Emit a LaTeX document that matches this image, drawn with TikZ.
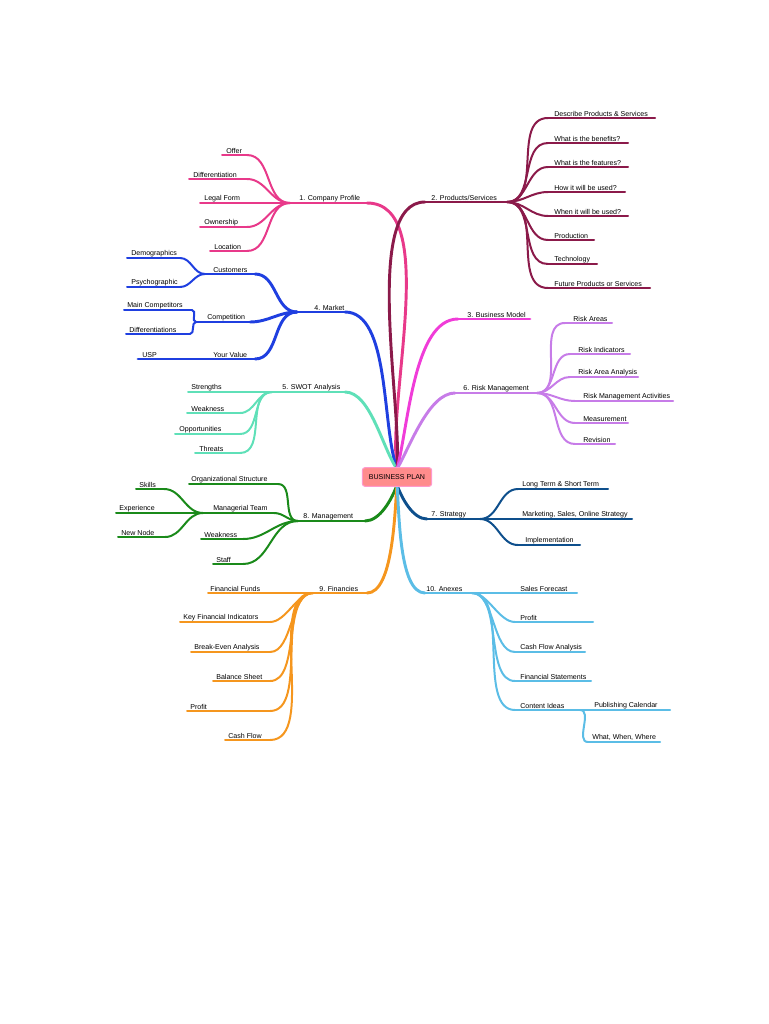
\documentclass[tikz,border=0pt]{standalone}
\usepackage{fontspec}
\setmainfont{Liberation Sans}
\begin{document}
\begin{tikzpicture}[x=0.75pt,y=-0.75pt,
  lbl/.style={anchor=south west,inner sep=0.8pt,font=\fontsize{5.3}{6}\selectfont},
  main/.style={line width=2.2pt,line cap=round},
  leaf/.style={line width=1.5pt,line cap=round},
  hubbox/.style={draw=pink!80!magenta,fill=red!45!white,rounded corners=2pt,line width=0.8pt,minimum width=52pt,minimum height=14pt,inner sep=0pt,font=\fontsize{5.3}{6}\selectfont}]
\useasboundingbox (0,0) rectangle (768,1024);
\definecolor{cP}{HTML}{E8398A}\definecolor{cM}{HTML}{1F3FE0}\definecolor{cS}{HTML}{5FE0B8}
\definecolor{cR}{HTML}{8B1A4A}\definecolor{cB}{HTML}{F03CD8}\definecolor{cV}{HTML}{C77CE8}
\definecolor{cG}{HTML}{1A8A1A}\definecolor{cO}{HTML}{F5961E}\definecolor{cD}{HTML}{0E4F8C}
\definecolor{cL}{HTML}{5BBDE6}
% #1 style #2 name #3 x1 #4 x2 #5 y #6 labelx #7 text
\newcommand\Br[7]{\coordinate (#2-l) at (#3,#5);\coordinate (#2-r) at (#4,#5);
  \node[lbl] (#2) at (#6,#5) {#7};\draw[#1] (#2-l)--(#2-r);}
\coordinate (hubT) at (397,469);\coordinate (hubB) at (397,485);
% main branches drawn first
\Br{main,cP}{cp}{290}{367}{203}{298}{1. Company Profile}
\Br{main,cM}{mk}{297}{345}{312}{313}{4. Market}
\Br{main,cS}{sw}{272}{345}{392}{281}{5. SWOT Analysis}
\Br{main,cR}{ps}{425}{507}{202}{430}{2. Products/Services}
\Br{main,cB}{bm}{458}{530}{319}{466}{3. Business Model}
\Br{main,cV}{rm}{455}{537}{393}{462}{6. Risk Management}
\Br{main,cG}{mg}{298}{365}{521}{302}{8. Management}
\Br{main,cO}{fi}{313}{367}{593}{318}{9. Financies}
\Br{main,cD}{st}{427}{480}{519}{430}{7. Strategy}
\Br{main,cL}{an}{425}{472}{593}{425}{10. Anexes}
\draw[main,cP] (cp-r) to[out=0,in=98,looseness=0.7] (hubT);
\draw[main,cM] (mk-r) to[out=0,in=110,looseness=0.7] (hubT);
\draw[main,cS] (sw-r) to[out=0,in=125,looseness=0.7] (hubT);
\draw[main,cR] (hubT) to[out=85,in=180,looseness=0.6] (ps-l);
\draw[main,cB] (hubT) to[out=75,in=180,looseness=0.7] (bm-l);
\draw[main,cV] (hubT) to[out=60,in=180,looseness=0.7] (rm-l);
\draw[main,cG] (hubB) to[out=-110,in=0,looseness=0.8] (mg-r);
\draw[main,cO] (hubB) to[out=-95,in=0,looseness=0.6] (fi-r);
\draw[main,cD] (hubB) to[out=-70,in=180,looseness=0.8] (st-l);
\draw[main,cL] (hubB) to[out=-85,in=180,looseness=0.6] (an-l);
\node[hubbox] (bp) at (397,477) {BUSINESS PLAN};
% 1 company profile
\foreach \n/\a/\y/\t in {of/222/155/Offer,di/189/179/Differentiation,lf/200/203/Legal Form,ow/200/227/Ownership,lo/210/251/Location}{
 \Br{leaf,cP}{\n}{\a}{247}{\y}{\a+3}{\t}
 \draw[leaf,cP] (cp-l) to[out=180,in=0] (\n-r);}
% 4 market
\Br{main,cM}{cu}{205}{255}{274}{212}{Customers}
\Br{main,cM}{co}{196}{250}{322}{206}{Competition}
\Br{main,cM}{yv}{200}{255}{359}{212}{Your Value}
\Br{main,cM}{us}{138}{200}{359}{141}{USP}
\draw[main,cM] (mk-l) to[out=180,in=0] (cu-r);
\draw[main,cM] (mk-l) to[out=180,in=0] (co-r);
\draw[main,cM] (mk-l) to[out=180,in=0] (yv-r);
\Br{leaf,cM}{dm}{127}{180}{258}{130}{Demographics}
\Br{leaf,cM}{py}{127}{180}{287}{130}{Psychographic}
\draw[leaf,cM] (cu-l) to[out=180,in=0] (dm-r);\draw[leaf,cM] (cu-l) to[out=180,in=0] (py-r);
\Br{leaf,cM}{mc}{124}{192}{310}{126}{Main Competitors}
\Br{leaf,cM}{dfs}{126}{190}{334}{128}{Differentiations}
\draw[leaf,cM] (co-l) to[out=180,in=0] (mc-r);\draw[leaf,cM] (co-l) to[out=180,in=0] (dfs-r);
% 5 swot
\Br{leaf,cS}{sg}{188}{272}{392}{190}{Strengths}
\foreach \n/\a/\y/\t in {wk/187/413/Weakness,op/175/434/Opportunities,th/195/453/Threats}{
 \Br{leaf,cS}{\n}{\a}{240}{\y}{\a+3}{\t}
 \draw[leaf,cS] (sw-l) to[out=180,in=0] (\n-r);}
% 2 products
\foreach \n/\b/\y/\t in {p1/655/118/Describe Products \& Services,p2/628/143/What is the benefits?,p3/628/167/What is the features?,p4/625/192/How it will be used?,p5/628/216/When it will be used?,p6/594/240/Production,p7/597/264/Technology,p8/650/288/Future Products or Services}{
 \Br{leaf,cR}{\n}{548}{\b}{\y}{553}{\t}
 \draw[leaf,cR] (ps-r) to[out=0,in=180] (\n-l);}
% 6 risk
\foreach \n/\a/\b/\y/\t in {r1/565/612/323/Risk Areas,r2/570/630/354/Risk Indicators,r3/570/638/377/Risk Area Analysis,r4/575/673/401/Risk Management Activities,r5/575/628/423/Measurement,r6/575/615/444/Revision}{
 \Br{leaf,cV}{\n}{\a}{\b}{\y}{\a+7}{\t}
 \draw[leaf,cV] (rm-r) to[out=0,in=180] (\n-l);}
% 8 management
\Br{leaf,cG}{os}{189}{278}{484}{190}{Organizational Structure}
\Br{leaf,cG}{mt}{203}{274}{513}{212}{Managerial Team}
\Br{leaf,cG}{wm}{201}{243}{539}{203}{Weakness}
\Br{leaf,cG}{sf}{213}{243}{564}{215}{Staff}
\foreach \n in {os,mt,wm,sf}{\draw[leaf,cG] (mg-l) to[out=180,in=0] (\n-r);}
\Br{leaf,cG}{sk}{136}{164}{489}{138}{Skills}
\Br{leaf,cG}{ex}{116}{203}{513}{118}{Experience}
\Br{leaf,cG}{nn}{118}{165}{537}{120}{New Node}
\draw[leaf,cG] (mt-l) to[out=180,in=0] (sk-r);\draw[leaf,cG] (mt-l) to[out=180,in=0] (nn-r);
% 9 financies
\Br{leaf,cO}{ff}{208}{313}{593}{209}{Financial Funds}
\foreach \n/\a/\y/\t in {kf/180/622/Key Financial Indicators,be/191/652/Break-Even Analysis,bs/213/681/Balance Sheet,pl/187/711/Profit/Loss Statement,cf/225/740/Cash Flow}{
 \Br{leaf,cO}{\n}{\a}{270}{\y}{\a+2}{\t}
 \draw[leaf,cO] (fi-l) to[out=180,in=0,looseness=0.8] (\n-r);}
% 7 strategy
\foreach \n/\b/\y/\t in {s1/608/489/Long Term \& Short Term,s2/632/519/{Marketing, Sales, Online Strategy},s3/580/545/Implementation}{
 \Br{leaf,cD}{\n}{518}{\b}{\y}{\ifnum\y=545 524\else 521\fi}{\t}
 \draw[leaf,cD] (st-r) to[out=0,in=180] (\n-l);}
% 10 anexes
\Br{leaf,cL}{sfc}{472}{577}{593}{519}{Sales Forecast}
\foreach \n/\b/\y/\t in {a2/593/622/Profit/Loss Statement,a3/585/652/Cash Flow Analysis,a4/591/681/Financial Statements,a5/580/710/Content Ideas}{
 \Br{leaf,cL}{\n}{515}{\b}{\y}{519}{\t}
 \draw[leaf,cL] (an-r) to[out=0,in=180,looseness=0.8] (\n-l);}
\Br{leaf,cL}{pc}{580}{670}{710}{593}{Publishing Calendar}
\Br{leaf,cL}{ww}{588}{660}{742}{591}{What, When, Where}
\draw[leaf,cL] (a5-r) to[out=0,in=180] (ww-l);
\end{tikzpicture}
\end{document}
